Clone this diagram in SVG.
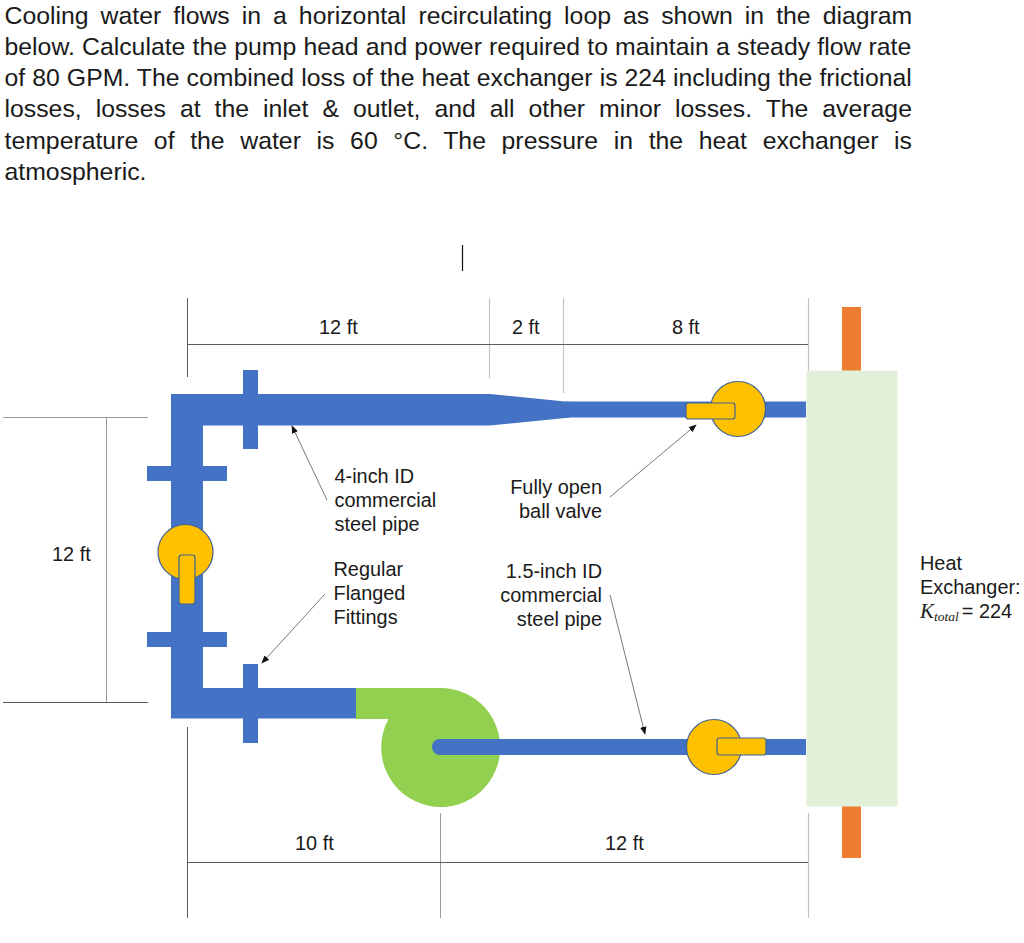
<svg xmlns="http://www.w3.org/2000/svg" width="1024" height="943" viewBox="0 0 1024 943">
<style>
text{font-family:"Liberation Sans",Arial,sans-serif;fill:#1a1a1a}
.q{font-size:24.8px}
.l{font-size:19.9px}
.e{text-anchor:end}
.p{fill:#4472c4}
.v{fill:#ffc000;stroke:#3f6397;stroke-width:1.2}
.d{stroke:#c4c4c4;stroke-width:1.2;fill:none}
.g{stroke:#9a9a9a;stroke-width:1;fill:none}
.h{stroke:#5a5a5a;stroke-width:1;fill:none}
.a{stroke:#777;stroke-width:1;fill:none;marker-end:url(#tip)}
</style>
<defs>
<marker id="tip" viewBox="0 0 10 10" refX="9" refY="5" markerWidth="8" markerHeight="8" markerUnits="userSpaceOnUse" orient="auto"><path d="M0 1L10 5L0 9Z" fill="#111"/></marker>
</defs>
<rect width="1024" height="943" fill="#fff"/>
<g id="problem-text">
<text class="q" x="4.500" y="24" word-spacing="5.12">Cooling water flows in a horizontal recirculating loop as shown in the diagram</text>
<text class="q" x="4.500" y="55" word-spacing="0.3">below. Calculate the pump head and power required to maintain a steady flow rate</text>
<text class="q" x="4.500" y="86" word-spacing="0.15">of 80 GPM. The combined loss of the heat exchanger is 224 including the frictional</text>
<text class="q" x="4.500" y="117" word-spacing="7.07">losses, losses at the inlet &amp; outlet, and all other minor losses. The average</text>
<text class="q" x="4.500" y="149" word-spacing="8.75">temperature of the water is 60 °C. The pressure in the heat exchanger is</text>
<text class="q" x="4.500" y="180">atmospheric.</text>
</g>
<path d="M462.500 245V271" stroke="#111" stroke-width="1.2"/>
<g id="dimensions">
<path class="d" d="M489.500 298V378M563.500 298V393M808.500 298V372M808.500 813V918"/>
<path class="g" d="M440.500 813V918M106.500 417V702M3 417.500H148"/>
<path class="h" d="M187 344.500H808M187 862.500H808M187.500 298V377M187.500 727V918M3 702.500H148"/>
<text class="l" x="319" y="334">12 ft</text>
<text class="l" x="512" y="334">2 ft</text>
<text class="l" x="672" y="334">8 ft</text>
<text class="l" x="52" y="561">12 ft</text>
<text class="l" x="295" y="850">10 ft</text>
<text class="l" x="605" y="850">12 ft</text>
</g>
<g id="heat-exchanger">
<rect x="842" y="307" width="19" height="64" fill="#ed7d31"/>
<rect x="842" y="806" width="19" height="52" fill="#ed7d31"/>
<rect x="806.500" y="370.500" width="91" height="436" fill="#e2efd9"/>
<text class="l" x="920" y="570">Heat</text>
<text class="l" x="920" y="594">Exchanger:</text>
<text class="l" x="920" y="618"><tspan font-family="'Liberation Serif',serif" font-style="italic" font-size="21">K</tspan><tspan font-family="'Liberation Serif',serif" font-style="italic" font-size="13.500" dy="3">total</tspan><tspan dy="-3" dx="3">= 224</tspan></text>
</g>
<g id="pump">
<path d="M356 688H440A59.5 59.5 0 1 1 388.500 719H356Z" fill="#92d050"/>
</g>
<g id="pipe-4in">
<path class="p" d="M171 394H490L570 402V417.500L490 425.500H203V688H356V718.500H171Z"/>
</g>
<g id="pipe-1-5in">
<path class="p" d="M565 401.500H806V417.500H565Z"/>
<path class="p" d="M440 739H806V755H440A8 8 0 0 1 440 739Z"/>
</g>
<g id="fittings">
<rect class="p" x="243" y="370" width="15" height="79"/>
<rect class="p" x="147" y="466" width="80" height="15"/>
<rect class="p" x="147" y="632" width="80" height="15"/>
<rect class="p" x="243" y="664" width="15" height="79"/>
</g>
<g id="valve-top">
<circle class="v" cx="738" cy="409" r="27.500"/>
<rect class="v" x="686" y="403" width="49" height="16" rx="2.500"/>
</g>
<g id="valve-left">
<circle class="v" cx="185.500" cy="552" r="27.500"/>
<rect class="v" x="179" y="555" width="16" height="49" rx="2.500"/>
</g>
<g id="valve-bottom">
<circle class="v" cx="714" cy="747" r="27.500"/>
<rect class="v" x="717" y="738" width="49" height="17" rx="2.500"/>
</g>
<g id="labels">
<text class="l" x="334.500" y="483">4-inch ID</text>
<text class="l" x="334.500" y="507">commercial</text>
<text class="l" x="334.500" y="531">steel pipe</text>
<text class="l" x="333.500" y="576">Regular</text>
<text class="l" x="333.500" y="600">Flanged</text>
<text class="l" x="333.500" y="624">Fittings</text>
<text class="l e" x="602" y="494">Fully open</text>
<text class="l e" x="602" y="518">ball valve</text>
<text class="l e" x="602" y="578">1.5-inch ID</text>
<text class="l e" x="602" y="602">commercial</text>
<text class="l e" x="602" y="626">steel pipe</text>
</g>
<g id="connectors">
<path class="a" d="M327 500L292 426"/>
<path class="a" d="M325 594L262 663"/>
<path class="a" d="M610 497L696 425"/>
<path class="a" d="M610 595L645 734"/>
</g>
</svg>
